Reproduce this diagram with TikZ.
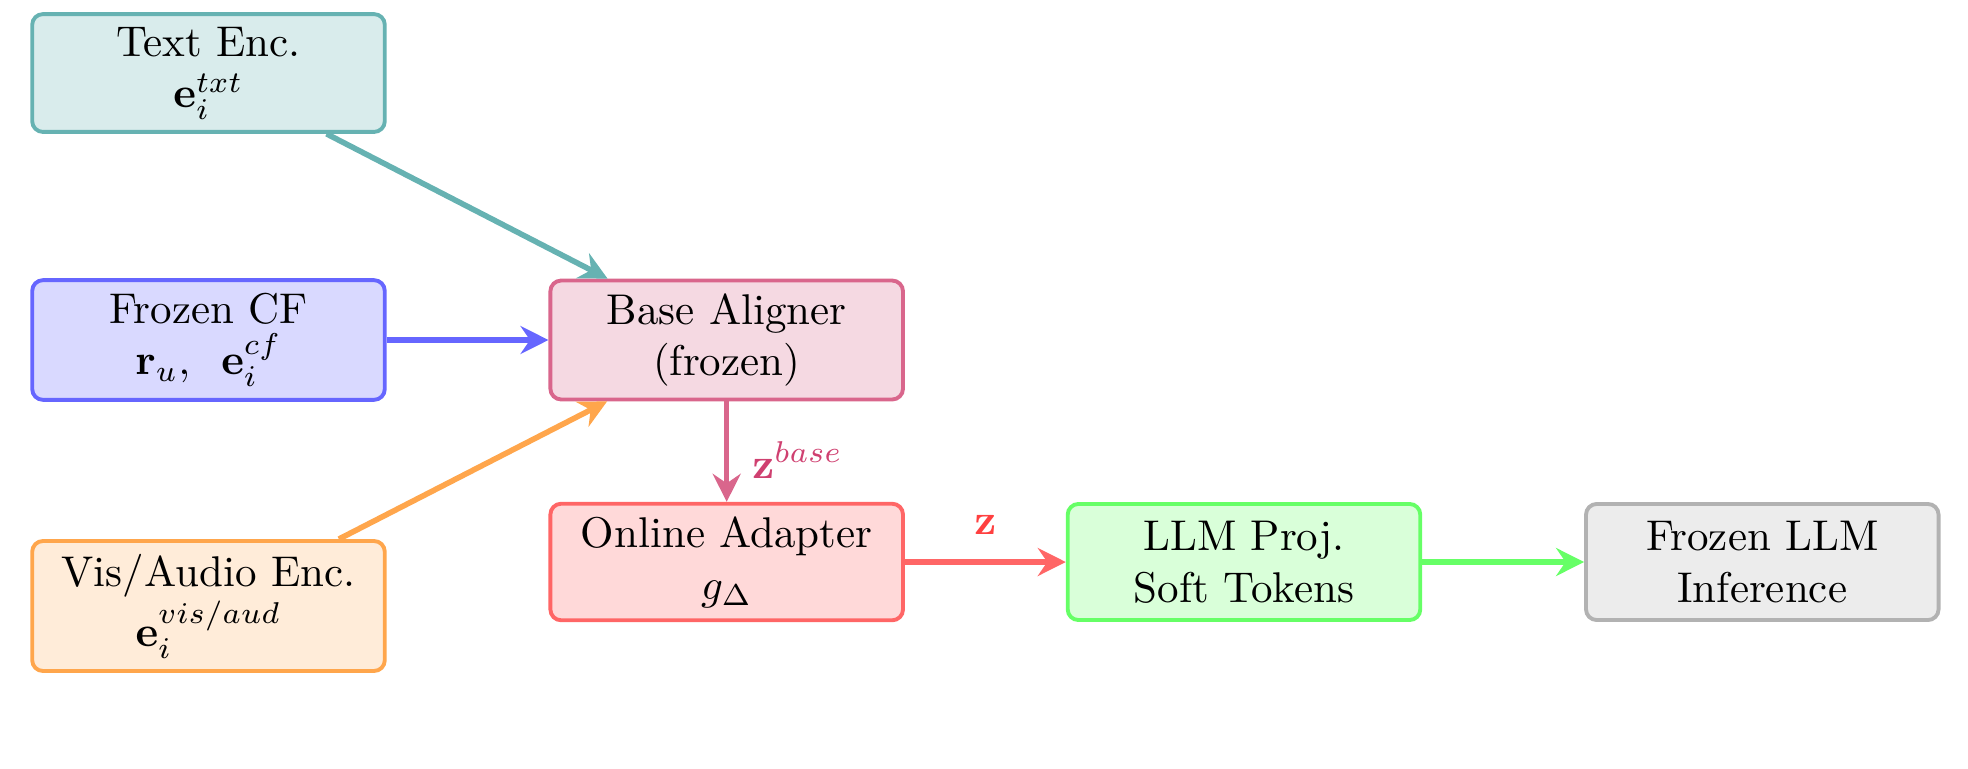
\documentclass[tikz,border=0pt]{standalone}
\usetikzlibrary{arrows.meta}
\begin{document}
\begin{tikzpicture}[x=0.23256pt,y=-0.23256pt,
  box/.style={draw, rounded corners=2.5pt, line width=0.9pt, align=center,
    minimum width=82pt, minimum height=27pt, inner sep=3pt},
  arr/.style={line width=1.3pt, -{Stealth[length=6.5pt,width=6.5pt,inset=2.2pt]}},
]
\useasboundingbox (0,0) rectangle (1968,768);
\node[box, draw=teal!60, fill=teal!15] (txt) at (208.5,73) {Text Enc.\\ $\mathbf{e}_i^{txt}$};
\node[box, draw=blue!60, fill=blue!15] (cf) at (208.5,340) {Frozen CF\\ $\mathbf{r}_u,\;\;\mathbf{e}_i^{cf}$};
\node[box, draw=orange!70, fill=orange!15] (vis) at (208.5,606) {Vis/Audio Enc.\\ $\mathbf{e}_i^{vis/aud}$};
\node[box, draw=purple!60, fill=purple!15] (base) at (726.7,340) {Base Aligner\\ (frozen)};
\node[box, draw=red!60, fill=red!15] (ada) at (726.7,562) {Online Adapter\\ $g_\Delta$};
\node[box, draw=green!60, fill=green!15] (proj) at (1244,562) {LLM Proj.\\ Soft Tokens};
\node[box, draw=gray!60, fill=gray!15] (llm) at (1762.3,562) {Frozen LLM\\ Inference};

\draw[arr, teal!60] (txt) -- (base);
\draw[arr, blue!60] (cf) -- (base);
\draw[arr, orange!70] (vis) -- (base);
\draw[arr, purple!60] (base) -- node[right, xshift=2pt, yshift=-2pt, text=purple!75] {$\mathbf{z}^{base}$} (ada);
\draw[arr, red!60] (ada) -- node[above, yshift=2.5pt, text=red!75] {$\mathbf{z}$} (proj);
\draw[arr, green!60] (proj) -- (llm);
\end{tikzpicture}
\end{document}
